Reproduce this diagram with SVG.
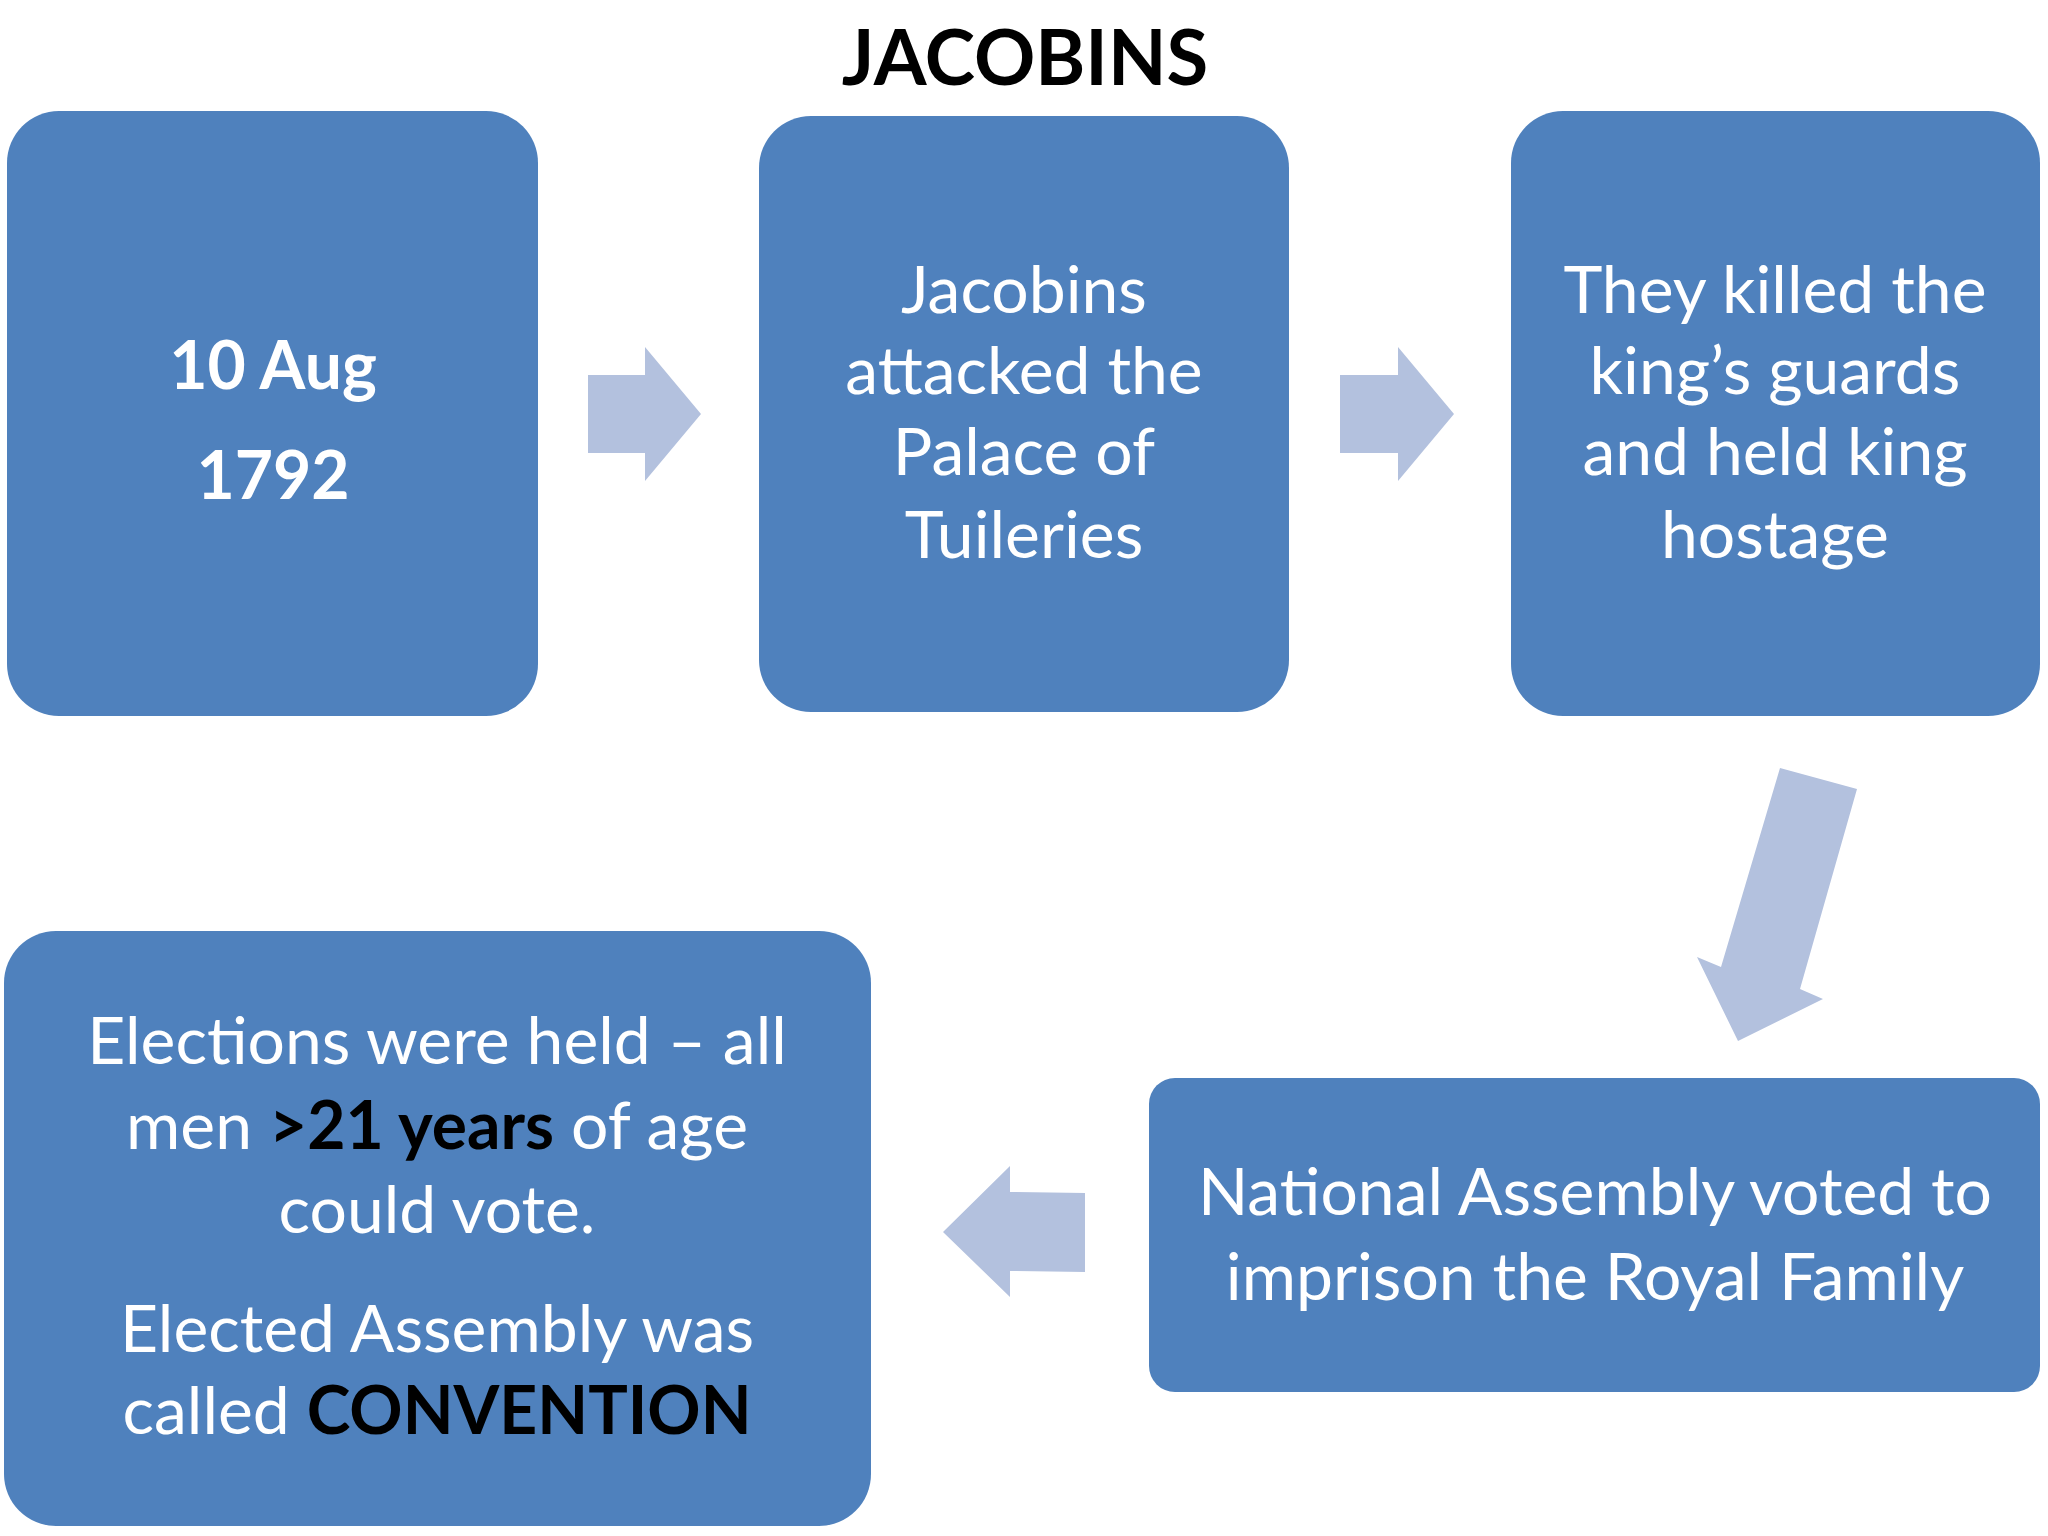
<svg xmlns="http://www.w3.org/2000/svg" width="2048" height="1536" viewBox="0 0 2048 1536">
<style>
.box{fill:#4F81BD}
.arr{fill:#B3C1DE}
.t{font-family:Lato,"Open Sans",sans-serif;fill:#fff;font-size:66px;text-anchor:middle}
.b{font-weight:bold}
.k{fill:#000}
</style>
<rect width="2048" height="1536" fill="#fff"/>
<text x="1025" y="85" font-family="Lato,'Open Sans',sans-serif" font-weight="bold" font-size="76" text-anchor="middle" fill="#000">JACOBINS</text>
<g id="connectors">
<polygon class="arr" points="588,375 645,375 645,347 701,414 645,481 645,453 588,453"/>
<polygon class="arr" points="1340,375 1398,375 1398,347 1454,414 1398,481 1398,453 1340,453"/>
<polygon class="arr" points="1780,768 1857,789 1800,989 1823,999 1738,1041 1697,957 1721,967"/>
<polygon class="arr" points="943,1232 1010,1166 1010,1192 1085,1193 1085,1272 1010,1271 1010,1297"/>
</g>
<g id="n1"><rect class="box" x="7" y="111" width="531" height="605" rx="52"/>
<text class="t b" font-size="94"><tspan x="273" y="389">10 Aug</tspan><tspan x="273" y="499">1792</tspan></text></g>
<g id="n2"><rect class="box" x="759" y="116" width="530" height="596" rx="52"/>
<text class="t"><tspan x="1024" y="313">Jacobins</tspan><tspan x="1024" y="394">attacked the</tspan><tspan x="1024" y="475">Palace of</tspan><tspan x="1024" y="558">Tuileries</tspan></text></g>
<g id="n3"><rect class="box" x="1511" y="111" width="529" height="605" rx="52"/>
<text class="t"><tspan x="1775" y="313">They killed the</tspan><tspan x="1775" y="394">king’s guards</tspan><tspan x="1775" y="475">and held king</tspan><tspan x="1775" y="558">hostage</tspan></text></g>
<g id="n4"><rect class="box" x="1149" y="1078" width="891" height="314" rx="26"/>
<text class="t"><tspan x="1595" y="1215">National Assembly voted to</tspan><tspan x="1595" y="1300">imprison the Royal Family</tspan></text></g>
<g id="n5"><rect class="box" x="4" y="931" width="867" height="595" rx="52"/>
<text class="t"><tspan x="437" y="1064">Elections were held – all</tspan><tspan x="437" y="1149">men <tspan class="b k">&gt;21 years</tspan> of age</tspan><tspan x="437" y="1233">could vote.</tspan><tspan x="437" y="1352">Elected Assembly was</tspan><tspan x="437" y="1434">called <tspan class="b k">CONVENTION</tspan></tspan></text></g>
</svg>
